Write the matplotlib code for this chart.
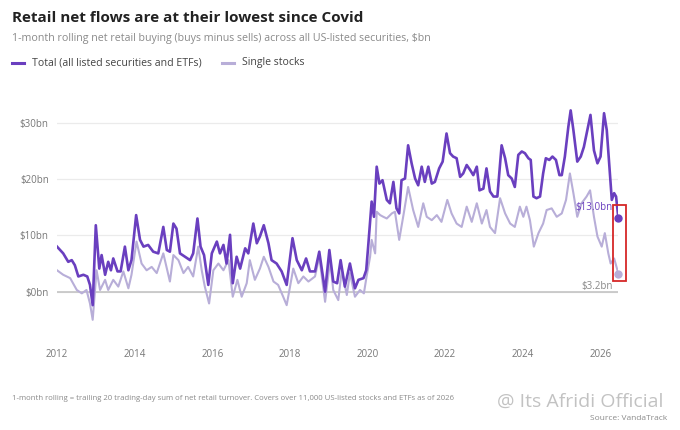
import matplotlib
matplotlib.use("Agg")
import matplotlib.pyplot as plt
from matplotlib.lines import Line2D
from matplotlib.patches import Rectangle

plt.rcParams["font.family"] = ["Open Sans", "DejaVu Sans"]

# 1-month rolling net retail buying, $bn
total_t = [2012.00, 2012.16, 2012.29, 2012.38, 2012.46, 2012.55, 2012.68, 2012.78, 2012.85, 2012.92,
           2013.00, 2013.09, 2013.15, 2013.24, 2013.32, 2013.39, 2013.45, 2013.56, 2013.64, 2013.75,
           2013.84, 2013.92, 2014.04, 2014.14, 2014.23, 2014.35, 2014.48, 2014.61, 2014.74, 2014.83,
           2014.91, 2015.00, 2015.08, 2015.17, 2015.30, 2015.43, 2015.51, 2015.62, 2015.70, 2015.79,
           2015.90, 2015.99, 2016.12, 2016.20, 2016.29, 2016.37, 2016.46, 2016.53, 2016.63, 2016.72,
           2016.85, 2016.93, 2017.06, 2017.15, 2017.23, 2017.33, 2017.45, 2017.53, 2017.66, 2017.79,
           2017.92, 2018.07, 2018.18, 2018.31, 2018.42, 2018.52, 2018.65, 2018.76, 2018.91, 2019.02,
           2019.12, 2019.22, 2019.31, 2019.42, 2019.55, 2019.68, 2019.77, 2019.90, 2019.97, 2020.02,
           2020.11, 2020.17, 2020.24, 2020.31, 2020.39, 2020.50, 2020.58, 2020.67, 2020.75, 2020.82,
           2020.88, 2020.97, 2021.05, 2021.14, 2021.23, 2021.31, 2021.40, 2021.48, 2021.57, 2021.66,
           2021.74, 2021.85, 2021.94, 2022.04, 2022.13, 2022.21, 2022.30, 2022.39, 2022.47, 2022.56,
           2022.65, 2022.73, 2022.82, 2022.89, 2022.99, 2023.07, 2023.16, 2023.25, 2023.35, 2023.46,
           2023.55, 2023.63, 2023.72, 2023.80, 2023.89, 2023.98, 2024.06, 2024.15, 2024.21, 2024.28,
           2024.36, 2024.45, 2024.53, 2024.60, 2024.69, 2024.77, 2024.86, 2024.95, 2025.01, 2025.09,
           2025.18, 2025.24, 2025.31, 2025.41, 2025.50, 2025.58, 2025.67, 2025.75, 2025.84, 2025.93,
           2026.01, 2026.10, 2026.17, 2026.25, 2026.30, 2026.36, 2026.41, 2026.47]
total_v = [8.0, 6.8, 5.3, 5.6, 4.7, 2.7, 3.0, 2.7, 1.2, -2.4,
           11.8, 4.1, 6.5, 3.0, 5.3, 3.8, 5.9, 3.6, 3.6, 8.0,
           3.8, 5.6, 13.6, 9.2, 8.0, 8.3, 7.1, 6.8, 11.5, 7.4,
           7.1, 12.1, 11.2, 6.8, 6.2, 5.6, 6.8, 13.0, 8.0, 6.5,
           1.2, 6.8, 8.9, 6.8, 8.3, 5.0, 10.1, 1.5, 6.2, 4.1,
           7.7, 6.8, 12.1, 8.6, 9.8, 11.8, 8.6, 5.6, 5.0, 3.6,
           1.2, 9.5, 5.6, 3.8, 5.9, 3.6, 3.6, 7.1, 0.0, 7.4,
           1.8, 1.5, 5.6, 0.9, 5.0, 0.6, 2.1, 2.4, 3.8, 8.0,
           16.0, 13.3, 22.2, 19.2, 19.8, 16.3, 15.7, 19.5, 14.8, 13.9,
           19.8, 20.1, 26.0, 22.8, 20.1, 18.9, 22.2, 19.5, 22.2, 19.2,
           19.5, 21.9, 23.1, 28.1, 24.6, 24.0, 23.7, 20.4, 21.0, 22.5,
           21.6, 20.7, 22.2, 18.0, 18.3, 21.9, 17.8, 16.9, 16.9, 26.0,
           23.7, 20.7, 20.1, 18.6, 24.3, 24.9, 24.6, 23.7, 23.4, 16.9,
           16.6, 16.9, 21.0, 23.7, 23.4, 24.0, 23.4, 20.7, 20.7, 24.0,
           29.3, 32.2, 28.7, 23.1, 24.0, 25.7, 28.7, 31.4, 25.1, 22.8,
           24.0, 31.7, 28.7, 21.0, 16.3, 17.5, 16.9, 13.0]

single_t = [2012.00, 2012.16, 2012.34, 2012.51, 2012.64, 2012.76, 2012.85, 2012.92, 2013.02, 2013.11,
            2013.24, 2013.32, 2013.45, 2013.58, 2013.71, 2013.84, 2013.92, 2014.05, 2014.18, 2014.31,
            2014.44, 2014.57, 2014.74, 2014.91, 2015.00, 2015.13, 2015.26, 2015.38, 2015.51, 2015.64,
            2015.73, 2015.81, 2015.92, 2016.03, 2016.16, 2016.29, 2016.42, 2016.53, 2016.65, 2016.76,
            2016.89, 2016.97, 2017.10, 2017.23, 2017.33, 2017.45, 2017.58, 2017.70, 2017.83, 2017.92,
            2018.09, 2018.22, 2018.35, 2018.48, 2018.65, 2018.76, 2018.91, 2019.04, 2019.12, 2019.25,
            2019.34, 2019.47, 2019.55, 2019.68, 2019.81, 2019.91, 2019.98, 2020.07, 2020.11, 2020.20,
            2020.24, 2020.33, 2020.41, 2020.50, 2020.63, 2020.71, 2020.82, 2020.93, 2021.05, 2021.18,
            2021.31, 2021.44, 2021.53, 2021.66, 2021.79, 2021.91, 2022.06, 2022.17, 2022.30, 2022.43,
            2022.56, 2022.69, 2022.82, 2022.95, 2023.07, 2023.16, 2023.29, 2023.42, 2023.55, 2023.68,
            2023.80, 2023.93, 2024.02, 2024.10, 2024.19, 2024.29, 2024.41, 2024.53, 2024.62, 2024.75,
            2024.88, 2025.01, 2025.12, 2025.22, 2025.31, 2025.41, 2025.52, 2025.65, 2025.74, 2025.84,
            2025.93, 2026.04, 2026.12, 2026.21, 2026.27, 2026.36, 2026.47]
single_v = [3.8, 3.0, 2.4, 0.3, -0.3, 0.3, -2.1, -5.0, 3.8, 0.3,
            2.1, 0.3, 2.1, 0.9, 3.6, 0.6, 3.0, 8.9, 5.0, 3.8,
            4.4, 3.3, 6.8, 1.8, 6.5, 5.6, 3.3, 4.4, 2.7, 8.0,
            3.8, 0.9, -2.1, 3.8, 5.0, 3.8, 5.6, -0.9, 2.1, -0.9,
            1.5, 5.6, 2.1, 4.1, 6.2, 4.4, 1.8, 1.2, -0.9, -2.4,
            4.1, 1.5, 2.7, 1.8, 2.7, 6.2, -1.8, 5.6, 0.3, -1.5,
            3.8, -0.6, 3.3, -0.9, 0.3, -0.3, 2.7, 6.2, 9.2, 6.8,
            14.2, 13.6, 13.3, 13.0, 13.9, 14.2, 9.2, 13.6, 18.6, 14.5,
            11.5, 15.7, 13.3, 12.7, 13.6, 12.4, 16.3, 13.9, 12.1, 11.5,
            15.1, 12.4, 15.7, 12.1, 14.5, 11.5, 10.4, 16.6, 13.9, 12.1,
            11.5, 15.1, 13.3, 15.1, 12.7, 8.0, 10.4, 12.1, 14.5, 14.8,
            13.3, 13.9, 16.3, 21.0, 17.5, 13.3, 15.7, 16.9, 18.0, 13.3,
            9.8, 8.0, 10.4, 6.8, 5.0, 5.9, 3.2]

years = [2012, 2014, 2016, 2018, 2020, 2022, 2024, 2026]
yticks = [0, 10, 20, 30]
ytick_labels = ["$0bn", "$10bn", "$20bn", "$30bn"]

c_total = "#6a3fbf"
c_single = "#b8aed8"

fig = plt.figure(figsize=(6.8, 4.3), dpi=100)
ax = fig.add_axes([57 / 680, 93.3 / 430, 561.4 / 680, 230.8 / 430])

ax.plot(single_t, single_v, color=c_single, lw=1.5, solid_joinstyle="round", zorder=3)
ax.plot(total_t, total_v, color=c_total, lw=1.9, solid_joinstyle="round", zorder=4)
ax.plot(single_t[-1], single_v[-1], "o", color=c_single, ms=5, zorder=5, clip_on=False)
ax.plot(total_t[-1], total_v[-1], "o", color=c_total, ms=5, zorder=5, clip_on=False)

ax.annotate(f"${total_v[-1]:.1f}bn", (total_t[-1], total_v[-1]), xytext=(-4, 8),
            textcoords="offset points", ha="right", va="center", fontsize=7, color=c_total)
ax.annotate(f"${single_v[-1]:.1f}bn", (single_t[-1], single_v[-1]), xytext=(-4, -9),
            textcoords="offset points", ha="right", va="center", fontsize=7, color="#888888")

ax.set_xlim(2012.0, 2026.47)
ax.set_ylim(-8, 33)
ax.set_xticks(years)
ax.set_xticklabels([str(y) for y in years])
ax.set_yticks(yticks)
ax.set_yticklabels(ytick_labels)
ax.tick_params(length=0, labelsize=7, colors="#777777")
ax.tick_params(axis="x", pad=9)
ax.tick_params(axis="y", pad=6)
for s in ax.spines.values():
    s.set_visible(False)
ax.grid(axis="y", color="#ebebeb", lw=0.9)
ax.axhline(0, color="#c4c4c4", lw=1.2, zorder=2)

# red highlight box around the latest readings
ax.add_patch(Rectangle((612.7, 149.3), 13, 75.4, transform=None, fill=False,
                       ec="#d62728", lw=1.3, clip_on=False, zorder=6))

fig.text(12 / 680, 1 - 18 / 430, "Retail net flows are at their lowest since Covid",
         fontsize=11, fontweight="bold", color="#222222", va="center")
fig.text(12 / 680, 1 - 39 / 430,
         "1-month rolling net retail buying (buys minus sells) across all US-listed securities, $bn",
         fontsize=7.7, color="#8a8a8a", va="center")

# legend
fig.add_artist(Line2D([12 / 680, 24 / 680], [1 - 63 / 430] * 2, color=c_total, lw=2.2))
fig.text(32 / 680, 1 - 63 / 430, "Total (all listed securities and ETFs)",
         fontsize=7.6, color="#444444", va="center")
fig.add_artist(Line2D([222 / 680, 234 / 680], [1 - 63 / 430] * 2, color=c_single, lw=2.2))
fig.text(242 / 680, 1 - 63 / 430, "Single stocks", fontsize=7.6, color="#444444", va="center")

fig.text(12 / 680, 1 - 398 / 430,
         "1-month rolling = trailing 20 trading-day sum of net retail turnover. "
         "Covers over 11,000 US-listed stocks and ETFs as of 2026",
         fontsize=5.6, color="#8a8a8a", va="center")
fig.text(667 / 680, 1 - 418 / 430, "Source: VandaTrack", fontsize=6, color="#8a8a8a",
         ha="right", va="center")
fig.text(663 / 680, 1 - 402 / 430, "@ Its Afridi Official", fontsize=14, color="#9a9a9a",
         alpha=0.6, ha="right", va="center")

fig.savefig("out.png", dpi=100, facecolor="white")
